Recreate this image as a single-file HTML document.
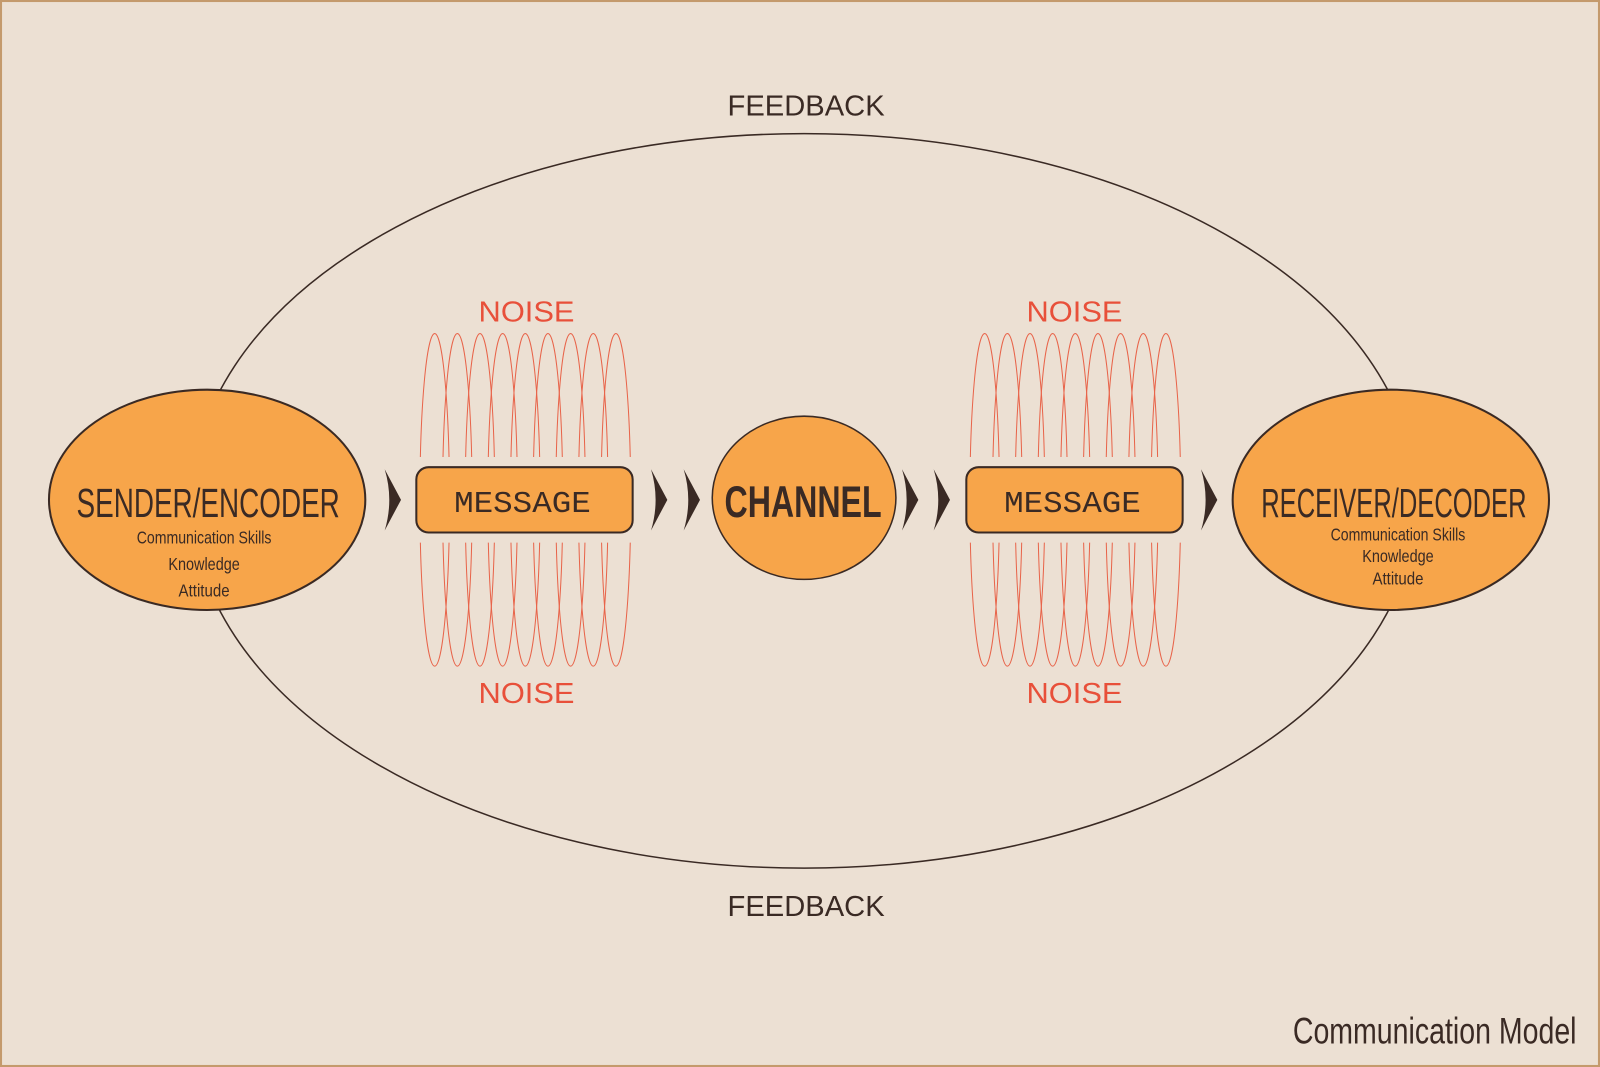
<!DOCTYPE html>
<html><head><meta charset="utf-8"><style>
html,body{margin:0;padding:0;background:#ece0d3;}
svg{display:block;}
</style></head><body>
<svg width="1600" height="1067" viewBox="0 0 1568 1046" preserveAspectRatio="none" xmlns="http://www.w3.org/2000/svg">
<defs>
<clipPath id="ct"><rect x="380" y="300" width="300" height="148"/></clipPath>
<clipPath id="cb"><rect x="380" y="532" width="300" height="140"/></clipPath>
<g id="loops" fill="none" stroke="#e8644a" stroke-width="1">
<ellipse cx="426" cy="490" rx="14.5" ry="163"/>
<ellipse cx="448.2" cy="490" rx="14.5" ry="163"/>
<ellipse cx="470.4" cy="490" rx="14.5" ry="163"/>
<ellipse cx="492.6" cy="490" rx="14.5" ry="163"/>
<ellipse cx="514.8" cy="490" rx="14.5" ry="163"/>
<ellipse cx="537" cy="490" rx="14.5" ry="163"/>
<ellipse cx="559.2" cy="490" rx="14.5" ry="163"/>
<ellipse cx="581.4" cy="490" rx="14.5" ry="163"/>
<ellipse cx="603.6" cy="490" rx="14.5" ry="163"/>
</g>
<path id="chev" d="M0,460 Q9,490 0,520 L16,490 Z" fill="#3a2a24"/>
</defs>
<rect x="1" y="1" width="1566" height="1044" fill="#ece0d3" stroke="#c49a6c" stroke-width="2"/>
<ellipse cx="788" cy="491" rx="600" ry="360" fill="none" stroke="#3a2a24" stroke-width="1.5"/>
<g clip-path="url(#ct)"><use href="#loops"/></g>
<g clip-path="url(#cb)"><use href="#loops"/></g>
<g transform="translate(539,0)">
<g clip-path="url(#ct)"><use href="#loops"/></g>
<g clip-path="url(#cb)"><use href="#loops"/></g>
</g>
<g font-family="'Liberation Sans',sans-serif" fill="#3a2a24">
<text x="790" y="113" font-size="28" text-anchor="middle" textLength="154" lengthAdjust="spacingAndGlyphs">FEEDBACK</text>
<text x="790" y="898" font-size="28" text-anchor="middle" textLength="154" lengthAdjust="spacingAndGlyphs">FEEDBACK</text>
<g fill="#e8503a" font-size="28">
<text x="516" y="315" text-anchor="middle" textLength="94" lengthAdjust="spacingAndGlyphs">NOISE</text>
<text x="516" y="689" text-anchor="middle" textLength="94" lengthAdjust="spacingAndGlyphs">NOISE</text>
<text x="1053" y="315" text-anchor="middle" textLength="94" lengthAdjust="spacingAndGlyphs">NOISE</text>
<text x="1053" y="689" text-anchor="middle" textLength="94" lengthAdjust="spacingAndGlyphs">NOISE</text>
</g>
</g>
<ellipse cx="203" cy="490" rx="155" ry="108" fill="#f7a54a" stroke="#3a2a24" stroke-width="2"/>
<ellipse cx="1363" cy="490" rx="155" ry="108" fill="#f7a54a" stroke="#3a2a24" stroke-width="2"/>
<ellipse cx="788" cy="488" rx="90" ry="80" fill="#f7a54a" stroke="#3a2a24" stroke-width="1.5"/>
<rect x="408" y="458" width="212" height="64" rx="12" fill="#f7a54a" stroke="#3a2a24" stroke-width="2"/>
<rect x="947" y="458" width="212" height="64" rx="12" fill="#f7a54a" stroke="#3a2a24" stroke-width="2"/>
<use href="#chev" x="377"/>
<use href="#chev" x="638"/>
<use href="#chev" x="670"/>
<use href="#chev" x="884"/>
<use href="#chev" x="915"/>
<use href="#chev" x="1177"/>
<g font-family="'Liberation Sans',sans-serif" fill="#3a2a24" text-anchor="middle">
<text x="204" y="507" font-size="40" textLength="258" lengthAdjust="spacingAndGlyphs">SENDER/ENCODER</text>
<text x="200" y="533" font-size="17" textLength="132" lengthAdjust="spacingAndGlyphs">Communication Skills</text>
<text x="200" y="559" font-size="17" textLength="70" lengthAdjust="spacingAndGlyphs">Knowledge</text>
<text x="200" y="585" font-size="17" textLength="50" lengthAdjust="spacingAndGlyphs">Attitude</text>
<text x="1366" y="507" font-size="40" textLength="260" lengthAdjust="spacingAndGlyphs">RECEIVER/DECODER</text>
<text x="1370" y="530" font-size="17" textLength="132" lengthAdjust="spacingAndGlyphs">Communication Skills</text>
<text x="1370" y="551" font-size="17" textLength="70" lengthAdjust="spacingAndGlyphs">Knowledge</text>
<text x="1370" y="573" font-size="17" textLength="50" lengthAdjust="spacingAndGlyphs">Attitude</text>
<text x="787" y="507" font-size="44" font-weight="bold" textLength="154" lengthAdjust="spacingAndGlyphs">CHANNEL</text>
<text x="512" y="502" font-size="30" font-family="'Liberation Mono',monospace" textLength="134" lengthAdjust="spacingAndGlyphs">MESSAGE</text>
<text x="1051" y="502" font-size="30" font-family="'Liberation Mono',monospace" textLength="134" lengthAdjust="spacingAndGlyphs">MESSAGE</text>
<text x="1545" y="1023" font-size="36" text-anchor="end" textLength="278" lengthAdjust="spacingAndGlyphs">Communication Model</text>
</g>
</svg>
</body></html>
